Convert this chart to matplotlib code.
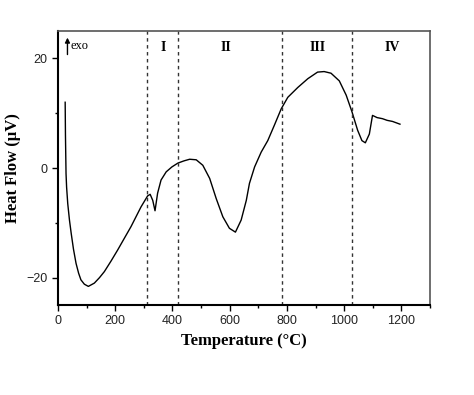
import matplotlib
matplotlib.use('Agg')
import matplotlib.pyplot as plt
from matplotlib.ticker import MultipleLocator

# DSC curve
temp = [25, 26, 28, 30, 34, 40, 46, 54, 63, 72, 80, 92, 106, 127, 145, 162, 185,
        208, 232, 255, 290, 313, 322, 331, 339, 348, 360, 378, 398, 419, 440, 460,
        483, 506, 530, 553, 576, 599, 620, 640, 658, 669, 687, 710, 733, 756, 780,
        803, 838, 873, 907, 930, 954, 983, 1007, 1027, 1047, 1062, 1074, 1088,
        1099, 1115, 1134, 1150, 1169, 1195]
heat = [12.0, 6.0, -1.0, -3.5, -6.5, -9.5, -11.9, -14.8, -17.4, -19.2, -20.4, -21.2,
        -21.6, -21.0, -20.0, -18.9, -17.0, -15.0, -12.8, -10.7, -7.1, -5.1, -4.8,
        -5.9, -7.8, -4.6, -2.2, -0.7, 0.2, 0.9, 1.3, 1.6, 1.5, 0.5, -1.9, -5.6,
        -8.9, -11.0, -11.7, -9.5, -5.9, -2.8, 0.2, 2.9, 5.0, 7.8, 10.8, 12.9, 14.7,
        16.3, 17.5, 17.6, 17.3, 15.9, 13.3, 10.3, 6.9, 5.0, 4.6, 6.2, 9.6, 9.2, 9.0,
        8.7, 8.5, 8.0]

bounds = [310, 420, 781, 1028]
stage_names = ['I', 'II', 'III', 'IV']
stage_x = [366, 588, 907, 1169]

fig = plt.figure(figsize=(4.74, 3.95), dpi=100)
ax = fig.add_axes([0.1224, 0.2278, 0.7848, 0.6937])

ax.plot(temp, heat, color='black', linewidth=1.0)
for b in bounds:
    ax.axvline(b, color='#333333', linestyle=(0, (2.5, 2.5)), linewidth=1.0)

for name, xs in zip(stage_names, stage_x):
    ax.text(xs, 22.0, name, family='Liberation Serif', fontweight='bold',
            fontsize=10, ha='center', va='center')

# exo arrow
ax.annotate('', xy=(33, 24.3), xytext=(33, 20.2),
            arrowprops=dict(arrowstyle='-|>', color='black', lw=1.0, mutation_scale=7))
ax.text(42, 22.3, 'exo', family='Liberation Serif', fontsize=9, va='center', ha='left')

ax.set_xlim(0, 1300)
ax.set_ylim(-25, 25)
ax.xaxis.set_major_locator(MultipleLocator(200))
ax.xaxis.set_minor_locator(MultipleLocator(100))
ax.yaxis.set_major_locator(MultipleLocator(20))
ax.yaxis.set_minor_locator(MultipleLocator(10))
ax.tick_params(which='both', direction='out', labelsize=9, width=1.0, labelcolor='#222222')
ax.tick_params(which='major', length=4)
ax.tick_params(which='minor', length=2.5)
for lab in ax.get_xticklabels() + ax.get_yticklabels():
    lab.set_family('Liberation Sans')

for side in ['left', 'bottom']:
    ax.spines[side].set_linewidth(1.5)
for side in ['top', 'right']:
    ax.spines[side].set_linewidth(1.2)
    ax.spines[side].set_color('#555555')

ax.set_xlabel('Temperature (°C)', family='Liberation Serif', fontweight='bold', fontsize=12)
ax.set_ylabel('Heat Flow (µV)', family='Liberation Serif', fontweight='bold', fontsize=12)

plt.savefig('out.png', dpi=100)
